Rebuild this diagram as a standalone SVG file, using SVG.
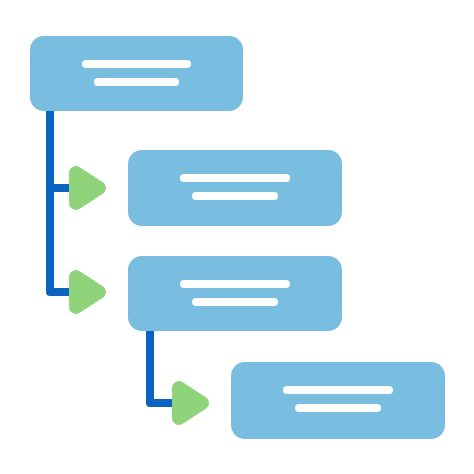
<svg xmlns="http://www.w3.org/2000/svg" width="474" height="474" viewBox="0 0 474 474">
<defs>
<style>
.box{fill:#79bde0}
.bar{stroke:#ffffff;stroke-width:8;stroke-linecap:round;fill:none}
.conn{stroke:#0a63bf;stroke-width:8;fill:none;stroke-linejoin:round}
.tri{fill:#8fd37a;stroke:#8fd37a;stroke-width:14;stroke-linejoin:round}
</style>
</defs>
<rect width="474" height="474" fill="#ffffff"/>
<g id="connectors">
<path class="conn" d="M50,110 V292 H74"/>
<path class="conn" d="M50,188 H74"/>
<path class="conn" d="M150,330 V403 H177"/>
<polygon class="tri" points="76,173 76,203 99,188"/>
<polygon class="tri" points="76,277 76,307 99,292"/>
<polygon class="tri" points="179,388 179,418 202,403"/>
</g>
<g id="node1">
<rect class="box" x="30" y="36" width="213" height="75" rx="14"/>
<line class="bar" x1="86" y1="64" x2="187" y2="64"/>
<line class="bar" x1="98" y1="82" x2="175" y2="82"/>
</g>
<g id="node2">
<rect class="box" x="128" y="150" width="214" height="76" rx="14"/>
<line class="bar" x1="184" y1="178" x2="286" y2="178"/>
<line class="bar" x1="196" y1="196" x2="274" y2="196"/>
</g>
<g id="node3">
<rect class="box" x="128" y="256" width="214" height="75" rx="14"/>
<line class="bar" x1="184" y1="284" x2="286" y2="284"/>
<line class="bar" x1="196" y1="302" x2="274" y2="302"/>
</g>
<g id="node4">
<rect class="box" x="231" y="362" width="214" height="77" rx="14"/>
<line class="bar" x1="287" y1="390" x2="389" y2="390"/>
<line class="bar" x1="299" y1="408" x2="377" y2="408"/>
</g>
</svg>
